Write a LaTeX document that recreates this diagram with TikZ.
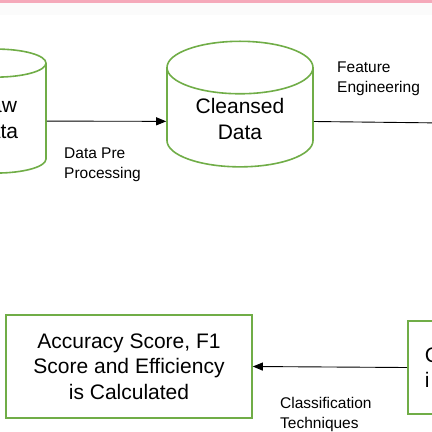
\documentclass[tikz,border=0pt]{standalone}
\usepackage{fontspec}
\setmainfont{Liberation Sans}
\usetikzlibrary{shapes.geometric,arrows.meta}
\definecolor{boxgreen}{HTML}{70AD47}
\definecolor{topline}{HTML}{F5A9BA}

\begin{document}
\begin{tikzpicture}[x=1pt,y=-1pt]
                        \tikzstyle{store}=[cylinder, shape border rotate=90, aspect=0.55, draw=boxgreen, line width=1.6pt, align=center, text depth=6pt, font=\fontsize{21}{26}\selectfont]
                        \tikzstyle{stepbox}=[rectangle, draw=boxgreen, line width=1.6pt, align=center, font=\fontsize{21}{25.5}\selectfont]
                        \tikzstyle{flow}=[draw, line width=0.9pt, -{Triangle[length=10pt,width=8pt]}]
                        \tikzstyle{steplabel}=[anchor=west, align=left, inner sep=0pt, font=\fontsize{15.5}{20}\selectfont]
                        \useasboundingbox (0,0) rectangle (432,432);
                        \fill[gray!3] (0,2) rectangle (432,15);
                        \fill[topline] (0,0) rectangle (432,2.5);
                        % data stores
                        \node[store, minimum width=100pt, minimum height=124pt] (raw) at (-4,121) {Raw\\Data};
                        \node[store, minimum width=146pt, minimum height=120pt] (clean) at (240,121.5) {Cleansed\\Data};
                        \coordinate (fe) at (445,123);
                        % steps
                        \node[stepbox, minimum width=246pt, minimum height=103pt] (score) at (129,366.5) {Accuracy Score, F1\\Score and Efficiency\\is Calculated};
                        \node[stepbox, anchor=west, minimum height=93pt, text width=100pt, inner xsep=17pt, align=left] (model) at (407,367.5) {C\\i};
                        % connectors
                        \draw[flow] (raw) -- (clean);
                        \draw[line width=0.9pt] (clean.east) -- (fe);
                        \draw[flow] (model.west) -- (score.east);
                        % labels
                        \node[steplabel] (pre) at (64,165) {Data Pre\\Processing};
                        \node[steplabel] (feat) at (337,79) {Feature\\Engineering};
                        \node[steplabel] (clf) at (280,414.5) {Classification\\Techniques};
\end{tikzpicture}
\end{document}
